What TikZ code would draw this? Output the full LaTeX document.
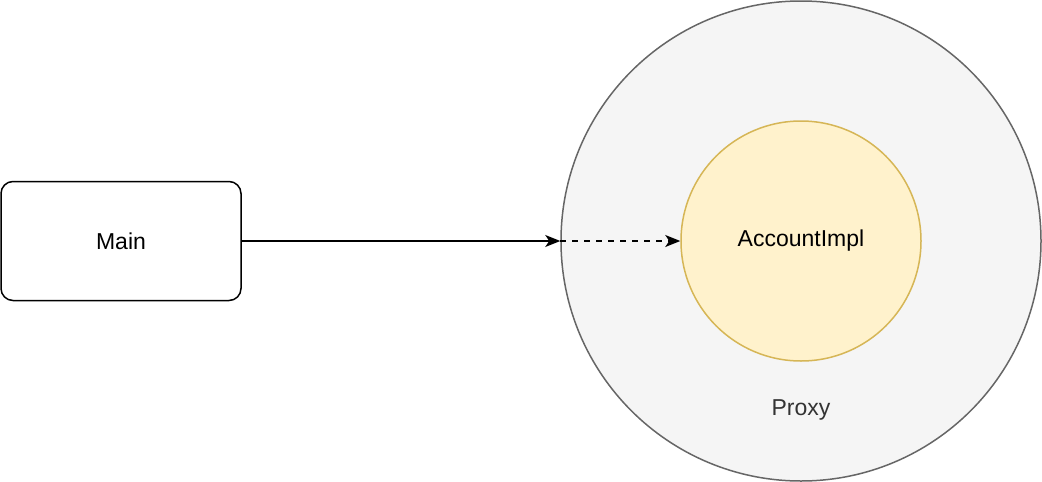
\documentclass[tikz,border=0pt]{standalone}
\usepackage{fontspec}
\setmainfont{Liberation Sans}
\usetikzlibrary{arrows.meta}
\definecolor{outerfill}{HTML}{F5F5F5}
\definecolor{outerline}{HTML}{666666}
\definecolor{innerfill}{HTML}{FFF2CC}
\definecolor{innerline}{HTML}{D6B656}
\definecolor{txt}{HTML}{333333}
\begin{document}
\begin{tikzpicture}[x=1pt,y=-1pt,
  lbl/.style={font=\fontsize{23}{27}\selectfont},
  arr/.style={-{Stealth[length=15pt,width=12pt,inset=4pt]},line width=1.6pt}]
\useasboundingbox (0,0) rectangle (1042,482);
\node[draw,line width=1.5pt,rounded corners=12pt,minimum width=240pt,minimum height=119pt,lbl] (main) at (121,241) {Main};
\node[circle,draw=outerline,fill=outerfill,line width=1.5pt,minimum size=480pt,inner sep=0pt] (proxy) at (801,241) {};
\node[circle,draw=innerline,fill=innerfill,line width=1.5pt,minimum size=240pt,inner sep=0pt,lbl] (acct) at (801,241) {AccountImpl};
\node[lbl,text=txt] (plbl) at (801,410) {Proxy};
\draw[arr] (main.east) -- (proxy.west);
\draw[arr,dash pattern=on 6pt off 6pt] (proxy.west) -- (acct.west);
\end{tikzpicture}
\end{document}
